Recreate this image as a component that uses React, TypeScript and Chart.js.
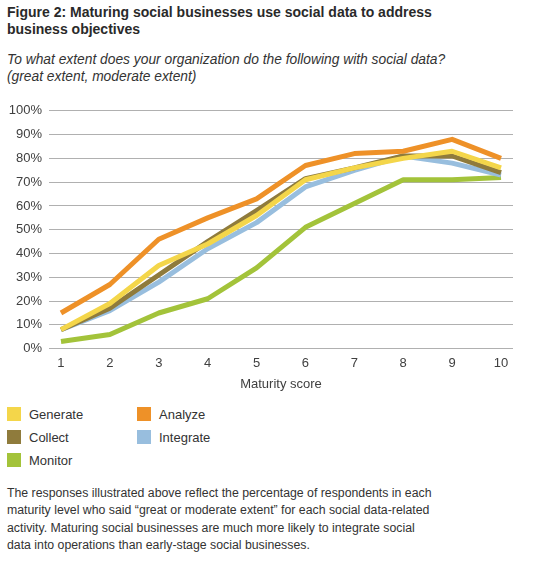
import React, { useEffect, useRef } from "react";
import { Chart, registerables } from "chart.js";

Chart.register(...registerables);

const categories = [1, 2, 3, 4, 5, 6, 7, 8, 9, 10];
const generate = [8, 19, 35, 44, 56, 71, 76, 80, 83, 76];
const analyze = [15, 27, 46, 55, 63, 77, 82, 83, 88, 80];
const collect = [8, 17, 31, 45, 58, 71.5, 76, 81, 81, 74];
const integrate = [8, 16, 28, 42, 53, 68, 75, 81, 78, 73];
const monitor = [3, 6, 15, 21, 34, 51, 61, 71, 71, 72];
const yTicks = [0, 10, 20, 30, 40, 50, 60, 70, 80, 90, 100];

const FONT = '"Liberation Sans", Arial, Helvetica, sans-serif';
const TXT = "#333333";

const COLORS = {
  Generate: "#F4D64A",
  Analyze: "#EE9128",
  Collect: "#8F7B3C",
  Integrate: "#98BEDE",
  Monitor: "#A3C33A",
};

const legendItems: [string, string, number, number][] = [
  ["Generate", COLORS.Generate, 0, 0],
  ["Analyze", COLORS.Analyze, 1, 0],
  ["Collect", COLORS.Collect, 0, 1],
  ["Integrate", COLORS.Integrate, 1, 1],
  ["Monitor", COLORS.Monitor, 0, 2],
];

function ChartBox() {
  const ref = useRef<HTMLCanvasElement | null>(null);
  useEffect(() => {
    if (!ref.current) return;
    const mk = (label: string, data: number[], color: string) => ({
      label,
      data: categories.map((c, i) => ({ x: c, y: data[i] })),
      borderColor: color,
      backgroundColor: color,
      borderWidth: 5,
      pointRadius: 0,
      tension: 0,
      borderJoinStyle: "round" as const,
      borderCapStyle: "butt" as const,
      fill: false,
    });
    const chart = new Chart(ref.current, {
      type: "line",
      data: {
        datasets: [
          mk("Analyze", analyze, COLORS.Analyze),
          mk("Generate", generate, COLORS.Generate),
          mk("Collect", collect, COLORS.Collect),
          mk("Integrate", integrate, COLORS.Integrate),
          mk("Monitor", monitor, COLORS.Monitor),
        ],
      },
      options: {
        animation: false,
        responsive: false,
        devicePixelRatio: 1,
        layout: { padding: { top: 10, right: 37, left: 0, bottom: 0 } },
        plugins: { legend: { display: false }, tooltip: { enabled: false } },
        scales: {
          x: {
            type: "linear",
            min: 0.755,
            max: 10.245,
            afterBuildTicks: (axis: any) => {
              axis.ticks = categories.map((v) => ({ value: v }));
            },
            afterFit: (axis: any) => {
              axis.height = 43.3;
            },
            grid: { display: false, drawTicks: false },
            border: { display: false },
            ticks: {
              autoSkip: false,
              maxRotation: 0,
              padding: 7,
              color: "#404040",
              font: { family: FONT, size: 13 },
              callback: (v: any) => String(v),
            },
            title: {
              display: true,
              text: "Maturity score",
              color: "#404040",
              font: { family: FONT, size: 13 },
              padding: { top: 0, bottom: 0 },
            },
          },
          y: {
            min: 0,
            max: 100,
            afterBuildTicks: (axis: any) => {
              axis.ticks = yTicks.map((v) => ({ value: v }));
            },
            afterFit: (axis: any) => {
              axis.width = 49;
            },
            grid: { color: "#b0b0b0", lineWidth: 1, drawTicks: false },
            border: { display: false },
            ticks: {
              padding: 7,
              color: "#404040",
              font: { family: FONT, size: 13 },
              callback: (v: any) => v + "%",
            },
          },
        },
      },
    });
    return () => chart.destroy();
  }, []);
  return (
    <canvas
      ref={ref}
      width={550}
      height={296}
      style={{ position: "absolute", left: 0, top: 96, width: 550, height: 296 }}
    />
  );
}

export default function App() {
  return (
    <div
      style={{
        position: "absolute",
        left: 0,
        top: 0,
        width: 550,
        height: 564,
        background: "#fff",
        fontFamily: FONT,
        color: TXT,
        overflow: "hidden",
      }}
    >
      <div
        style={{
          position: "absolute",
          left: 7,
          top: 4,
          fontWeight: "bold",
          fontSize: 14,
          lineHeight: "16.5px",
          whiteSpace: "nowrap",
          color: "#2a2a2a",
        }}
      >
        <div>Figure 2: Maturing social businesses use social data to address</div>
        <div>business objectives</div>
      </div>
      <div
        style={{
          position: "absolute",
          left: 7,
          top: 51,
          fontStyle: "italic",
          fontSize: 13.8,
          lineHeight: "17px",
          whiteSpace: "nowrap",
        }}
      >
        <div>To what extent does your organization do the following with social data?</div>
        <div>(great extent, moderate extent)</div>
      </div>
      <ChartBox />
      {legendItems.map(([label, color, col, row]) => (
        <div
          key={label}
          style={{
            position: "absolute",
            left: col === 0 ? 7 : 137,
            top: 407 + row * 23,
            height: 14,
            display: "flex",
            alignItems: "center",
            fontSize: 13,
            whiteSpace: "nowrap",
          }}
        >
          <span style={{ width: 14, height: 14, background: color, display: "inline-block" }} />
          <span style={{ marginLeft: 8 }}>{label}</span>
        </div>
      ))}
      <div
        style={{
          position: "absolute",
          left: 7,
          top: 485,
          fontSize: 12.3,
          lineHeight: "17.3px",
          whiteSpace: "nowrap",
        }}
      >
        <div>The responses illustrated above reflect the percentage of respondents in each</div>
        <div>maturity level who said “great or moderate extent” for each social data-related</div>
        <div>activity. Maturing social businesses are much more likely to integrate social</div>
        <div>data into operations than early-stage social businesses.</div>
      </div>
    </div>
  );
}
